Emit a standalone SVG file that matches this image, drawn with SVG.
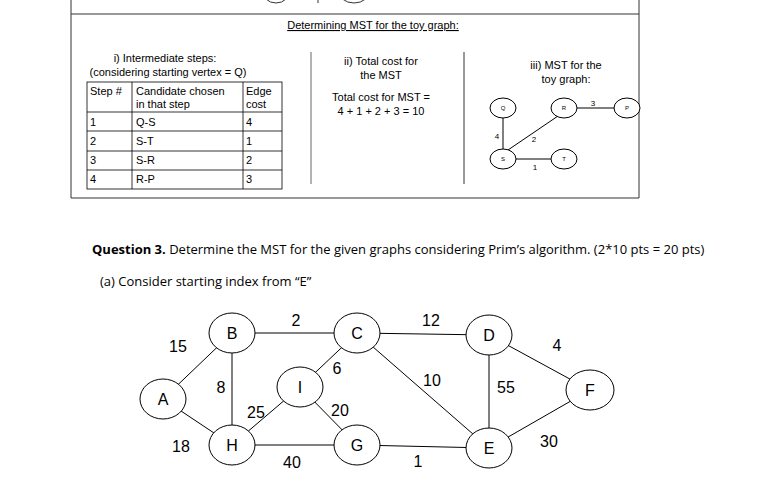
<svg xmlns="http://www.w3.org/2000/svg" width="776" height="497" viewBox="0 0 776 497">
<style>
.s{font-family:"Liberation Sans",Arial,sans-serif;fill:#000}
.t{font-size:11px}
.n{fill:#fff;stroke:#000;stroke-width:1}
.e{stroke:#000;stroke-width:1;fill:none}
.l{font-family:"Liberation Sans",Arial,sans-serif;font-size:16px;text-anchor:middle}
.q{font-family:"Open Sans","Liberation Sans",sans-serif;font-size:13px}
</style>
<rect width="776" height="497" fill="#fff"/>
<g id="topbox" fill="none" stroke="#333">
<line x1="71" y1="0" x2="71" y2="198"/>
<line x1="639" y1="0" x2="639" y2="198"/>
<line x1="71" y1="14" x2="639" y2="14"/>
<line x1="71" y1="198" x2="639" y2="198"/>
<ellipse cx="276" cy="-10" rx="14" ry="13"/>
<ellipse cx="354" cy="-10" rx="16" ry="13"/>
<line x1="318" y1="0" x2="318" y2="3"/>
<line x1="311" y1="52" x2="311" y2="184" stroke="#666"/>
<line x1="464" y1="52" x2="464" y2="184"/>
</g>
<text class="s t" x="373" y="29" text-anchor="middle" text-decoration="underline">Determining MST for the toy graph:</text>
<g id="steps" class="s t">
<text x="165" y="62" text-anchor="middle">i) Intermediate steps:</text>
<text x="168" y="76" text-anchor="middle">(considering starting vertex = Q)</text>
<g fill="none" stroke="#000" stroke-width="0.8">
<rect x="87" y="82" width="195" height="107"/>
<line x1="132" y1="82" x2="132" y2="189"/><line x1="243" y1="82" x2="243" y2="189"/>
<line x1="87" y1="112" x2="282" y2="112"/><line x1="87" y1="131" x2="282" y2="131"/>
<line x1="87" y1="151" x2="282" y2="151"/><line x1="87" y1="170" x2="282" y2="170"/>
</g>
<text x="90" y="95">Step #</text><text x="136" y="95">Candidate chosen</text><text x="136" y="108">in that step</text>
<text x="246" y="95">Edge</text><text x="246" y="108">cost</text>
<text x="90" y="126">1</text><text x="136" y="126">Q-S</text><text x="246" y="126">4</text>
<text x="90" y="145">2</text><text x="136" y="145">S-T</text><text x="246" y="145">1</text>
<text x="90" y="164">3</text><text x="136" y="164">S-R</text><text x="246" y="164">2</text>
<text x="90" y="183">4</text><text x="136" y="183">R-P</text><text x="246" y="183">3</text>
</g>
<g id="total" class="s t" text-anchor="middle">
<text x="381" y="65">ii) Total cost for</text><text x="381" y="79">the MST</text>
<text x="381" y="101">Total cost for MST =</text><text x="381" y="115">4 + 1 + 2 + 3 = 10</text>
</g>
<g id="toy" class="s">
<text class="t" x="566" y="69" text-anchor="middle">iii) MST for the</text><text class="t" x="566" y="83" text-anchor="middle">toy graph:</text>
<g class="e" stroke-width="0.7">
<line x1="503" y1="118" x2="503" y2="149"/><line x1="508" y1="150" x2="558" y2="116"/>
<line x1="577" y1="108" x2="614" y2="108"/><line x1="516" y1="159" x2="551" y2="159"/>
</g>
<g class="n" stroke-width="0.7">
<ellipse cx="503" cy="108" rx="13" ry="10"/><ellipse cx="564" cy="108" rx="13" ry="10"/>
<ellipse cx="627" cy="108" rx="13" ry="10"/><ellipse cx="503" cy="159" rx="13" ry="10"/>
<ellipse cx="564" cy="159" rx="13" ry="10"/>
</g>
<g font-size="6" text-anchor="middle">
<text x="503" y="110">Q</text><text x="564" y="110">R</text><text x="627" y="110">P</text><text x="503" y="161">S</text><text x="564" y="161">T</text>
</g>
<g font-size="8" text-anchor="middle">
<text x="497" y="139">4</text><text x="534" y="142">2</text><text x="593" y="106">3</text><text x="535" y="170">1</text>
</g>
</g>
<text class="q" x="92" y="254"><tspan font-weight="bold">Question 3.</tspan> Determine the MST for the given graphs considering Prim’s algorithm. (2*10 pts = 20 pts)</text>
<text class="q" x="100" y="286">(a)  Consider starting index from “E”</text>
<g id="connectors" class="e">
<line x1="163" y1="399" x2="232" y2="333"/><line x1="163" y1="399" x2="232" y2="445"/>
<line x1="232" y1="333" x2="357" y2="333"/><line x1="232" y1="333" x2="232" y2="445"/>
<line x1="357" y1="333" x2="489" y2="335"/><line x1="357" y1="333" x2="300" y2="387"/>
<line x1="357" y1="333" x2="489" y2="448"/><line x1="489" y1="335" x2="590" y2="390"/>
<line x1="489" y1="335" x2="489" y2="448"/><line x1="300" y1="387" x2="232" y2="445"/>
<line x1="300" y1="387" x2="357" y2="445"/><line x1="232" y1="445" x2="357" y2="445"/>
<line x1="357" y1="445" x2="489" y2="448"/><line x1="489" y1="448" x2="590" y2="390"/>
</g>
<g class="l">
<text x="178" y="352">15</text><text x="296" y="326">2</text><text x="431" y="326">12</text><text x="557" y="351">4</text>
<text x="221" y="393">8</text><text x="337" y="374">6</text><text x="432" y="386">10</text><text x="506" y="393">55</text>
<text x="340" y="416">20</text><text x="256" y="418">25</text><text x="181" y="452">18</text><text x="292" y="468">40</text>
<text x="418" y="467">1</text><text x="549" y="447">30</text>
</g>
<g id="A"><ellipse class="n" cx="163" cy="399" rx="23" ry="20"/><text class="l" x="163" y="405" font-size="14">A</text></g>
<g id="B"><ellipse class="n" cx="232" cy="333" rx="23" ry="20"/><text class="l" x="232" y="339" font-size="14">B</text></g>
<g id="C"><ellipse class="n" cx="357" cy="333" rx="23" ry="20"/><text class="l" x="357" y="339" font-size="14">C</text></g>
<g id="D"><ellipse class="n" cx="489" cy="335" rx="23" ry="20"/><text class="l" x="489" y="341" font-size="14">D</text></g>
<g id="I"><ellipse class="n" cx="300" cy="387" rx="23" ry="20"/><text class="l" x="300" y="393" font-size="14">I</text></g>
<g id="F"><ellipse class="n" cx="590" cy="390" rx="24" ry="20"/><text class="l" x="590" y="396" font-size="14">F</text></g>
<g id="H"><ellipse class="n" cx="232" cy="445" rx="23" ry="20"/><text class="l" x="232" y="451" font-size="14">H</text></g>
<g id="G"><ellipse class="n" cx="357" cy="445" rx="23" ry="20"/><text class="l" x="357" y="451" font-size="14">G</text></g>
<g id="E"><ellipse class="n" cx="489" cy="448" rx="23" ry="20"/><text class="l" x="489" y="454" font-size="14">E</text></g>
</svg>
